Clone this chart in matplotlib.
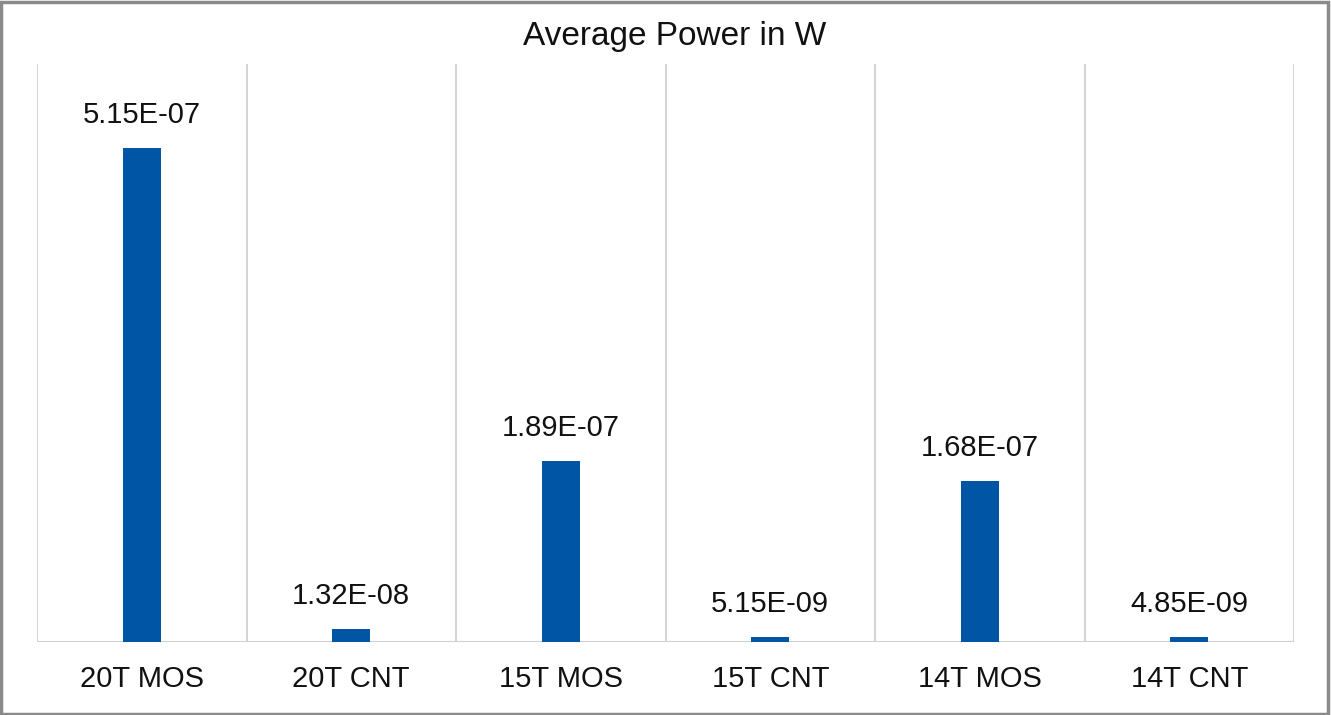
import matplotlib
matplotlib.use('Agg')
import matplotlib.pyplot as plt
from matplotlib.patches import Rectangle
import numpy as np

categories = ['20T MOS', '20T CNT', '15T MOS', '15T CNT', '14T MOS', '14T CNT']
power = [5.15e-07, 1.32e-08, 1.89e-07, 5.15e-09, 1.68e-07, 4.85e-09]
value_labels = ['5.15E-07', '1.32E-08', '1.89E-07', '5.15E-09', '1.68E-07', '4.85E-09']

plt.rcParams['font.family'] = ['Liberation Sans', 'DejaVu Sans']

fig = plt.figure(figsize=(13.31, 7.15), dpi=100)
ax = fig.add_axes([37 / 1331, 1 - 642 / 715, 1257 / 1331, 578 / 715])

x = np.arange(len(categories))
ax.bar(x, power, width=0.18, color='#0055a5', zorder=3)
for i in range(len(categories)):
    ax.annotate(value_labels[i], (x[i], power[i]), xytext=(0, 18),
                textcoords='offset points', ha='center', va='baseline',
                fontsize=21, color='#111111')

ax.set_xlim(-0.5, len(categories) - 0.5)
ax.set_ylim(0, 6.03e-07)
for b in np.arange(-0.5, len(categories), 1.0):
    ax.axvline(b, color='#d0d0d0', lw=1.3, zorder=1)
ax.axhline(0, color='#d0d0d0', lw=1.5, zorder=2)

ax.set_xticks(x)
ax.set_xticklabels(categories, fontsize=21, color='#111111')
ax.tick_params(axis='x', length=0, pad=16.5)
ax.set_yticks([])
for s in ax.spines.values():
    s.set_visible(False)

fig.text(675 / 1331, 1 - 45 / 715, 'Average Power in W', ha='center', va='baseline',
         fontsize=24, color='#111111')

fig.add_artist(Rectangle((0.001, 0.002), 0.997, 0.995, transform=fig.transFigure,
                         fill=False, edgecolor='#8a8a8a', lw=2.5))

fig.savefig('out.png', dpi=100)
